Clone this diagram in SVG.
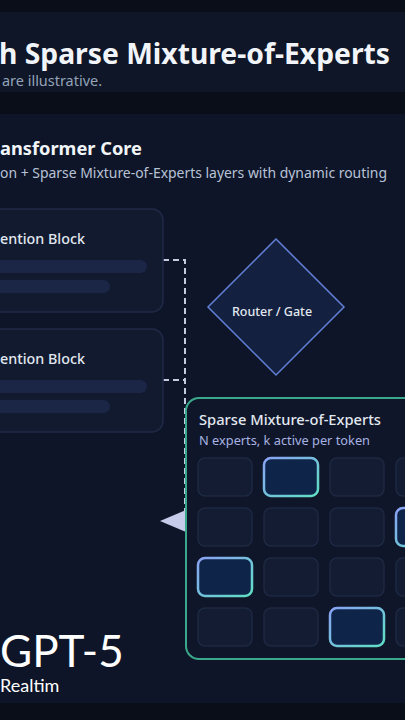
<svg xmlns="http://www.w3.org/2000/svg" width="405" height="720" viewBox="0 0 405 720">
<defs>
<style>
.ttl{font-family:"Noto Sans","Open Sans",sans-serif;font-weight:700;fill:#f1f5f9}
.sub{font-family:"Noto Sans","Open Sans",sans-serif;fill:#94a3b8}
.lbl{font-family:"Noto Sans","Open Sans",sans-serif;font-weight:500;fill:#e2e8f0}
.blk{fill:#111a2f;stroke:#1f2a45;stroke-width:1.5}
.bar{fill:#1b2646}
.cell{fill:#131c32;stroke:#1d2842;stroke-width:1.5}
.act{fill:#0f2449;stroke:url(#ag);stroke-width:2.5}
.dash{fill:none;stroke:#c5cbe0;stroke-width:2;stroke-dasharray:6 4}
</style>
<linearGradient id="ag" x1="0" y1="0" x2="1" y2="1">
<stop offset="0" stop-color="#8aa2f5"/>
<stop offset="1" stop-color="#5ee0c4"/>
</linearGradient>
<clipPath id="clipR"><rect x="0" y="670" width="59" height="30"/></clipPath>
</defs>
<rect width="405" height="720" fill="#0a0e18"/>
<rect x="0" y="12" width="405" height="80" fill="#0f1628"/>
<rect x="0" y="114" width="405" height="589" fill="#0e1528"/>
<g id="header">
<text class="ttl" x="-1" y="64" font-size="28" textLength="391" lengthAdjust="spacingAndGlyphs">h Sparse Mixture-of-Experts</text>
<text class="sub" x="2" y="86" font-size="14" textLength="100" lengthAdjust="spacingAndGlyphs">are illustrative.</text>
</g>
<g id="section">
<text class="ttl" x="0" y="155" font-size="18" textLength="142" lengthAdjust="spacingAndGlyphs">ansformer Core</text>
<text class="sub" x="0" y="178" font-size="14" textLength="387" lengthAdjust="spacingAndGlyphs" style="fill:#b8c2d6">on + Sparse Mixture-of-Experts layers with dynamic routing</text>
</g>
<g id="connectors">
<path class="dash" d="M163,260 H185 V521"/>
<path class="dash" d="M163,380 H185"/>
<polygon points="160,521 186,510 186,532" fill="#c5cbe8"/>
</g>
<g id="attn1">
<rect class="blk" x="-20" y="209" width="183" height="103" rx="11"/>
<text class="lbl" x="0" y="244" font-size="15" textLength="85" lengthAdjust="spacingAndGlyphs">ention Block</text>
<rect class="bar" x="-20" y="260" width="167" height="13" rx="6.5"/>
<rect class="bar" x="-20" y="280" width="130" height="13" rx="6.5"/>
</g>
<g id="attn2">
<rect class="blk" x="-20" y="329" width="183" height="103" rx="11"/>
<text class="lbl" x="0" y="364" font-size="15" textLength="85" lengthAdjust="spacingAndGlyphs">ention Block</text>
<rect class="bar" x="-20" y="380" width="167" height="13" rx="6.5"/>
<rect class="bar" x="-20" y="400" width="130" height="13" rx="6.5"/>
</g>
<g id="router">
<polygon points="276,239 344,307 276,375 208,307" fill="#13203f" stroke="#6281d6" stroke-width="1.5"/>
<text class="lbl" x="272" y="316" font-size="12.5" text-anchor="middle">Router / Gate</text>
</g>
<g id="smoe">
<rect x="186" y="398" width="240" height="261" rx="13" fill="#0f1629" stroke="#3aa98b" stroke-width="2"/>
<text class="lbl" x="199" y="425" font-size="14.5" textLength="182" lengthAdjust="spacingAndGlyphs">Sparse Mixture-of-Experts</text>
<text class="sub" x="199" y="445" font-size="13" textLength="171" lengthAdjust="spacingAndGlyphs" style="fill:#a7b2e2">N experts, k active per token</text>
<rect class="cell" x="198" y="458" width="54" height="38" rx="7"/>
<rect class="act" x="264" y="458" width="54" height="38" rx="7"/>
<rect class="cell" x="330" y="458" width="54" height="38" rx="7"/>
<rect class="cell" x="396" y="458" width="54" height="38" rx="7"/>
<rect class="cell" x="198" y="508" width="54" height="38" rx="7"/>
<rect class="cell" x="264" y="508" width="54" height="38" rx="7"/>
<rect class="cell" x="330" y="508" width="54" height="38" rx="7"/>
<rect class="act" x="396" y="508" width="54" height="38" rx="7"/>
<rect class="act" x="198" y="558" width="54" height="38" rx="7"/>
<rect class="cell" x="264" y="558" width="54" height="38" rx="7"/>
<rect class="cell" x="330" y="558" width="54" height="38" rx="7"/>
<rect class="cell" x="396" y="558" width="54" height="38" rx="7"/>
<rect class="cell" x="198" y="608" width="54" height="38" rx="7"/>
<rect class="cell" x="264" y="608" width="54" height="38" rx="7"/>
<rect class="act" x="330" y="608" width="54" height="38" rx="7"/>
<rect class="cell" x="396" y="608" width="54" height="38" rx="7"/>
</g>
<g id="brand">
<text x="0" y="667" font-family="Lato,sans-serif" font-size="44" fill="#ffffff">GPT-5</text>
<text x="0" y="692" font-family="Lato,sans-serif" font-size="18" fill="#ffffff" clip-path="url(#clipR)">Realtim</text>
</g>
</svg>
